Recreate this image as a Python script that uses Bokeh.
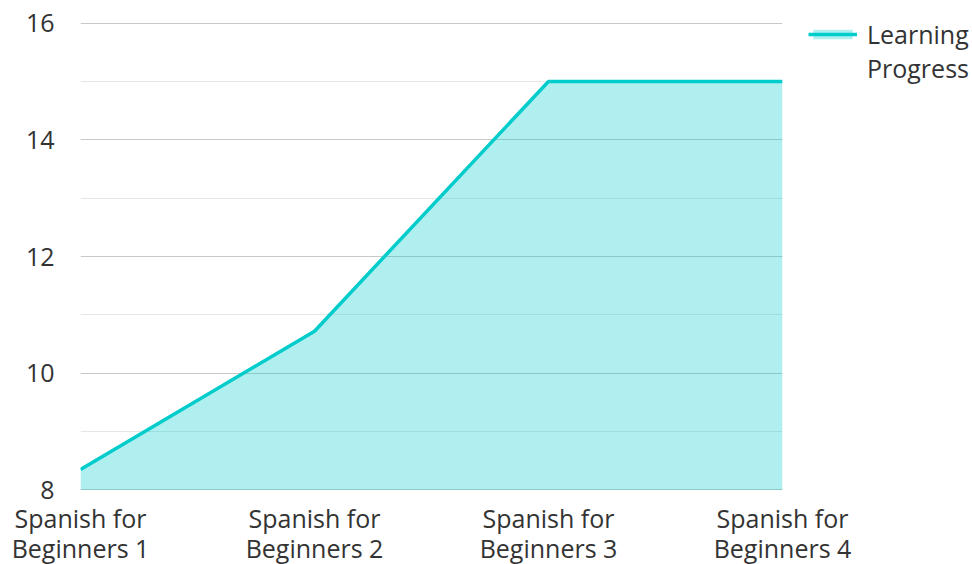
from bokeh.plotting import figure
from bokeh.models import FixedTicker, Legend, LegendItem, ColumnDataSource, Range1d, CustomJSTickFormatter
from bokeh.embed import file_html
from bokeh.resources import INLINE

categories = ["Spanish for\nBeginners 1", "Spanish for\nBeginners 2", "Spanish for\nBeginners 3", "Spanish for\nBeginners 4"]
progress = [8.35, 10.72, 15.0, 15.0]
y_ticks = [8, 10, 12, 14, 16]
y_minor = [9, 11, 13, 15]
series_words = ["Learning", "Progress"]

LINE = "#00cccc"
FONT = "Open Sans"
TXT = "#333333"
FS = "25px"
LH = 0.91

xs = list(range(len(categories)))
src = ColumnDataSource(dict(x=xs, y=progress, base=[8] * len(xs)))

p = figure(frame_width=702, frame_height=468, output_backend="svg", toolbar_location=None,
           x_range=Range1d(0, len(categories) - 1), y_range=Range1d(7.99, 16.01),
           min_border_left=80, min_border_right=182, min_border_top=22, min_border_bottom=0)
p.outline_line_color = None

area = p.varea(x="x", y1="base", y2="y", source=src, fill_color=LINE, fill_alpha=0.31)
line = p.line(x="x", y="y", source=src, line_color=LINE, line_width=3.5)
ghost = p.line(x="x", y="y", source=src, line_alpha=0)

p.xaxis.ticker = FixedTicker(ticks=xs)
p.xaxis.formatter = CustomJSTickFormatter(args=dict(labels=categories), code="return labels[Math.round(tick)]")
p.yaxis.ticker = FixedTicker(ticks=y_ticks, minor_ticks=y_minor)

for ax in (p.xaxis[0], p.yaxis[0]):
    ax.axis_line_color = None
    ax.major_tick_line_color = None
    ax.minor_tick_line_color = None
    ax.major_label_text_font = FONT
    ax.major_label_text_font_size = FS
    ax.major_label_text_color = TXT
    ax.major_label_text_line_height = LH
p.yaxis.major_label_standoff = 20
p.xaxis.major_label_standoff = 4

p.xgrid.grid_line_color = None
p.ygrid.grid_line_color = "#c8c8c8"
p.ygrid.grid_line_width = 1
p.ygrid.minor_grid_line_color = "#e6e6e6"

legend = Legend(items=[LegendItem(label=series_words[0], renderers=[area, line]),
                       LegendItem(label=series_words[1], renderers=[ghost])],
                location=(26, 405), orientation="vertical", glyph_height=12, glyph_width=49,
                spacing=-3, label_text_font=FONT, label_text_font_size=FS,
                label_text_color=TXT, label_standoff=10, padding=0, margin=0,
                border_line_color=None, background_fill_alpha=0)
p.add_layout(legend, "right")

open("out.html", "w").write(file_html(p, INLINE))
